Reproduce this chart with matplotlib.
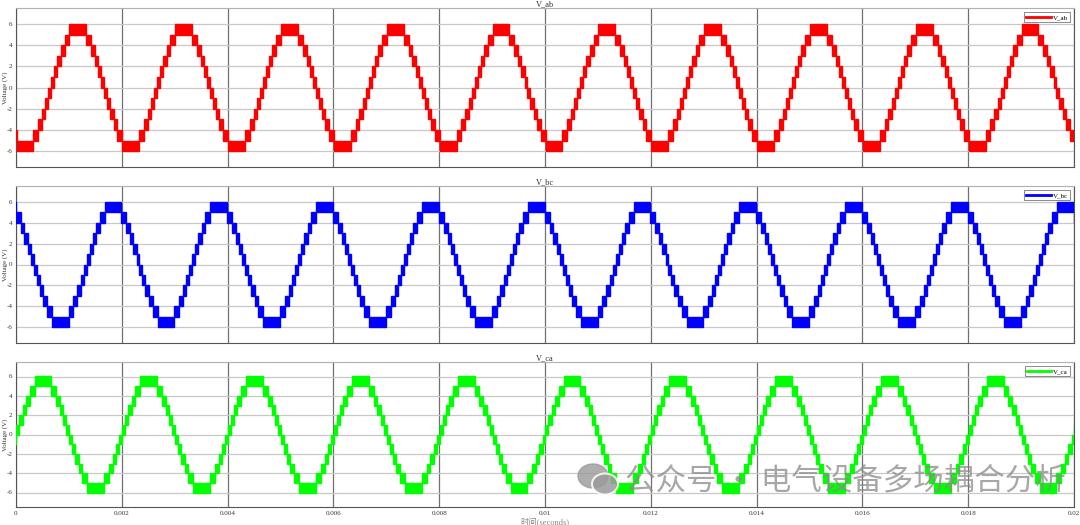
import numpy as np
import matplotlib.pyplot as plt
from matplotlib.patches import Ellipse

plt.rcParams['font.family'] = ['Liberation Serif', 'Noto Sans CJK SC', 'DejaVu Sans']

# one cycle of the staircase (2 ms)
# each block: duration (us) and lower level (block spans low .. low+1)
step_us = [318, 93, 71, 63, 58, 56, 56, 58, 63, 71, 93,
           318, 93, 71, 63, 58, 56, 56, 58, 63, 71, 93]
step_low = [5, 4, 3, 2, 1, 0, -1, -2, -3, -4, -5,
            -6, -5, -4, -3, -2, -1, 0, 1, 2, 3, 4]
n_cycles = 11

# start of the first top block (s) for each line voltage
names = ['V_ab', 'V_bc', 'V_ca']
cycle_start = [-0.00099, -0.000325, -0.00165]
colors = ['#ff0000', '#0000ff', '#00ff00']

xticks = [0, 0.002, 0.004, 0.006, 0.008, 0.01, 0.012, 0.014, 0.016, 0.018, 0.02]
xticklabels = ['0', '0.002', '0.004', '0.006', '0.008', '0.01', '0.012',
               '0.014', '0.016', '0.018', '0.02']
yticks = [-6, -4, -2, 0, 2, 4, 6]

fig = plt.figure(figsize=(10.8, 5.25), dpi=100)
W, H = 1080., 525.
# axes boxes in pixels: left, top, right, bottom
boxes = [(16, 8, 1074, 167), (16, 186, 1074, 343), (16, 362, 1074, 507)]

dur = np.array(step_us) * 1e-6
low = np.array(step_low)

for i, (l, t, r, b) in enumerate(boxes):
    ax = fig.add_axes([l / W, 1 - b / H, (r - l) / W, (b - t) / H])
    starts = cycle_start[i] + np.concatenate(
        [k * dur.sum() + np.concatenate([[0], np.cumsum(dur)[:-1]]) for k in range(n_cycles)])
    widths = np.tile(dur, n_cycles)
    lows = np.tile(low, n_cycles)
    ax.bar(starts, np.ones_like(widths), width=widths, bottom=lows, align='edge',
           color=colors[i], edgecolor=colors[i], linewidth=1.0, zorder=3)
    ax.plot([], [], color=colors[i], lw=2, label=names[i])
    ax.set_xlim(0, 0.02)
    ax.set_ylim(-7.5, 7.5)
    ax.set_xticks(xticks)
    ax.set_yticks(yticks)
    ax.set_yticklabels([str(v) for v in yticks])
    if i == 2:
        ax.set_xticklabels(xticklabels)
        ax.set_xlabel('时间(seconds)', fontsize=6, color='#888888', labelpad=1)
    else:
        ax.set_xticklabels([])
    ax.tick_params(axis='x', length=0, labelsize=5, colors='#333333', pad=3)
    ax.tick_params(axis='y', length=0, labelsize=5, colors='#333333', pad=2.5)
    ax.grid(axis='y', color='#c8c8c8', lw=0.9)
    ax.grid(axis='x', color='#707070', lw=0.9)
    ax.set_axisbelow(True)
    for s in ['left', 'bottom', 'right']:
        ax.spines[s].set_color('#555555')
    ax.spines['top'].set_color('#b0b0b0')
    ax.set_title(names[i], fontsize=6, pad=1.5, color='#333333')
    ax.set_ylabel('Voltage (V)', fontsize=5, color='#333333', va='center')
    ax.yaxis.set_label_coords(-11.0 / (r - l), 0.5)
    leg = ax.legend(loc='upper right', fontsize=5, frameon=True, fancybox=False,
                    handlelength=3.5, borderpad=0.3, borderaxespad=0.6,
                    handletextpad=0.3)
    leg.get_frame().set_edgecolor('#555555')
    leg.get_frame().set_linewidth(0.6)
    leg.set_zorder(5)

# watermark
fig.text(625 / W, 1 - 481 / H, '公众号 · 电气设备多场耦合分析', fontsize=22,
         family=['Noto Sans CJK SC'], color='#8a8a8a', alpha=0.75,
         va='center', ha='left')
wm = fig.add_axes([575 / W, 1 - 500 / H, 48 / W, 40 / H])
wm.set_xlim(0, 48)
wm.set_ylim(0, 40)
wm.axis('off')
wm.add_patch(Ellipse((18, 24), 30, 24, color='#9a9a9a', alpha=0.8))
wm.add_patch(Ellipse((30, 16), 26, 21, color='#9a9a9a', alpha=0.85, ec='white', lw=1.5))

fig.savefig('out.png', dpi=100)
